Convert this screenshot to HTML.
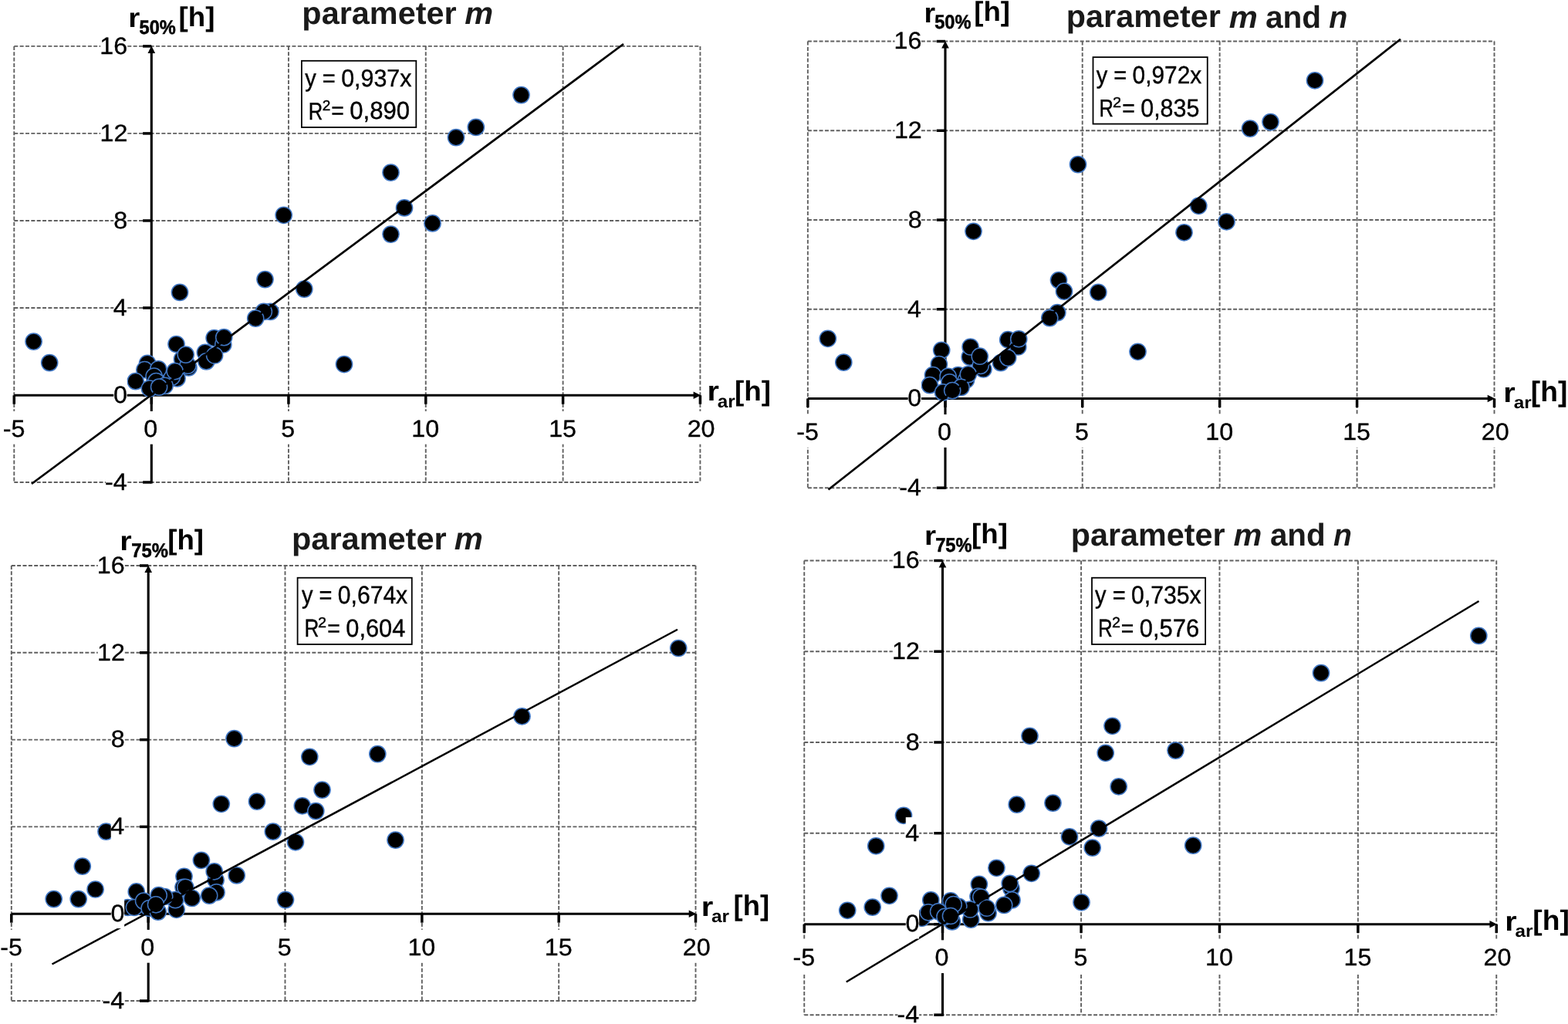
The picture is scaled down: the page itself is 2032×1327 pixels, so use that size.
<!DOCTYPE html>
<html lang="en">
<head>
<meta charset="utf-8">
<title>Scatter plots: parameter m / parameter m and n</title>
<style>
html,body{margin:0;padding:0;background:#fff;}
body{width:2032px;height:1327px;overflow:hidden;}
svg{display:block;}
text{white-space:pre;text-rendering:geometricPrecision;}
</style>
</head>
<body>
<svg width="2032" height="1327" viewBox="0 0 2032 1327">
<rect x="0" y="0" width="2032" height="1327" fill="#fff"/>
<defs><filter id="soft" x="0" y="0" width="100%" height="100%" filterUnits="userSpaceOnUse" color-interpolation-filters="sRGB"><feGaussianBlur stdDeviation="0.55"/></filter></defs>
<g font-family='"Liberation Sans", sans-serif' filter="url(#soft)">
<g id="panel1">
<g stroke="#606060" stroke-width="1.9" stroke-dasharray="5.0 2.35" fill="none">
<line x1="18.3" y1="59.9" x2="18.3" y2="625"/>
<line x1="373.94" y1="59.9" x2="373.94" y2="625"/>
<line x1="551.76" y1="59.9" x2="551.76" y2="625"/>
<line x1="729.58" y1="59.9" x2="729.58" y2="625"/>
<line x1="907.4" y1="59.9" x2="907.4" y2="625"/>
<line x1="18.3" y1="625" x2="907.4" y2="625"/>
<line x1="18.3" y1="398.96" x2="907.4" y2="398.96"/>
<line x1="18.3" y1="285.94" x2="907.4" y2="285.94"/>
<line x1="18.3" y1="172.92" x2="907.4" y2="172.92"/>
<line x1="18.3" y1="59.9" x2="907.4" y2="59.9"/>
</g>
<g stroke="#000" stroke-width="3.1" fill="none">
<line x1="18.3" y1="512.3" x2="903.4" y2="512.3"/>
<line x1="196.3" y1="63.9" x2="196.3" y2="626.5"/>
</g>
<g stroke="#000" stroke-width="3.5" fill="none">
<line x1="18.3" y1="512.3" x2="18.3" y2="523.7"/>
<line x1="196.3" y1="512.3" x2="196.3" y2="523.7"/>
<line x1="373.94" y1="512.3" x2="373.94" y2="523.7"/>
<line x1="551.76" y1="512.3" x2="551.76" y2="523.7"/>
<line x1="729.58" y1="512.3" x2="729.58" y2="523.7"/>
<line x1="907.4" y1="512.3" x2="907.4" y2="523.7"/>
<line x1="185.1" y1="625" x2="196.3" y2="625"/>
<line x1="185.1" y1="512.3" x2="196.3" y2="512.3"/>
<line x1="185.1" y1="398.96" x2="196.3" y2="398.96"/>
<line x1="185.1" y1="285.94" x2="196.3" y2="285.94"/>
<line x1="185.1" y1="172.92" x2="196.3" y2="172.92"/>
<line x1="185.1" y1="59.9" x2="196.3" y2="59.9"/>
</g>
<path d="M196.3 59.3 L191.5 68.9 L201.1 68.9 Z" fill="#000"/>
<path d="M908.2 512.3 L898.6 507.5 L898.6 517.1 Z" fill="#000"/>
<g fill="#000" stroke="#4076c2" stroke-width="1.5">
<circle cx="43.6" cy="442.6" r="10.6"/>
<circle cx="64.2" cy="470.1" r="10.6"/>
<circle cx="233" cy="378.9" r="10.6"/>
<circle cx="367.7" cy="278.8" r="10.6"/>
<circle cx="343.5" cy="362.1" r="10.6"/>
<circle cx="394.3" cy="374.6" r="10.6"/>
<circle cx="350.5" cy="403.9" r="10.6"/>
<circle cx="341.8" cy="403.9" r="10.6"/>
<circle cx="331.2" cy="412.6" r="10.6"/>
<circle cx="446" cy="472.05" r="10.6"/>
<circle cx="506.5" cy="223.6" r="10.6"/>
<circle cx="524" cy="269.4" r="10.6"/>
<circle cx="506.5" cy="303.6" r="10.6"/>
<circle cx="560.5" cy="289.4" r="10.6"/>
<circle cx="591" cy="178.1" r="10.6"/>
<circle cx="616.8" cy="164.9" r="10.6"/>
<circle cx="675.5" cy="123.1" r="10.6"/>
<circle cx="277.6" cy="438.05" r="10.6"/>
<circle cx="289.3" cy="446.5" r="10.6"/>
<circle cx="290.25" cy="437.1" r="10.6"/>
<circle cx="265.9" cy="456.75" r="10.6"/>
<circle cx="267.3" cy="468.4" r="10.6"/>
<circle cx="278.1" cy="460.5" r="10.6"/>
<circle cx="228.5" cy="446" r="10.6"/>
<circle cx="236" cy="465.2" r="10.6"/>
<circle cx="244.4" cy="476.4" r="10.6"/>
<circle cx="243.5" cy="473.6" r="10.6"/>
<circle cx="240.7" cy="459.6" r="10.6"/>
<circle cx="229.5" cy="490.4" r="10.6"/>
<circle cx="222.9" cy="488.5" r="10.6"/>
<circle cx="226.7" cy="481.1" r="10.6"/>
<circle cx="191.1" cy="470.8" r="10.6"/>
<circle cx="187.4" cy="479.2" r="10.6"/>
<circle cx="205.2" cy="478.25" r="10.6"/>
<circle cx="199.6" cy="487.6" r="10.6"/>
<circle cx="202.4" cy="494.1" r="10.6"/>
<circle cx="175.7" cy="494.1" r="10.6"/>
<circle cx="213.6" cy="499.8" r="10.6"/>
<circle cx="193.9" cy="503.5" r="10.6"/>
<circle cx="206.1" cy="501.6" r="10.6"/>
</g>
<line x1="41" y1="627" x2="808" y2="57" stroke="#000" stroke-width="2.7"/>
<rect x="136.95" y="604.4" width="27.7" height="39.4" fill="#fff"/>
<text transform="translate(136 634.79) scale(1.0463 1)" font-size="30.85" fill="#000" stroke="#000" stroke-width="0.35">-4</text>
<rect x="147.25" y="491.7" width="17.4" height="39.4" fill="#fff"/>
<text transform="translate(146.97 522.09) scale(1.0463 1)" font-size="30.85" fill="#000" stroke="#000" stroke-width="0.35">0</text>
<rect x="147.25" y="378.36" width="17.4" height="39.4" fill="#fff"/>
<text transform="translate(146.65 408.75) scale(1.0463 1)" font-size="30.85" fill="#000" stroke="#000" stroke-width="0.35">4</text>
<rect x="147.25" y="265.34" width="17.4" height="39.4" fill="#fff"/>
<text transform="translate(147.29 295.73) scale(1.0463 1)" font-size="30.85" fill="#000" stroke="#000" stroke-width="0.35">8</text>
<rect x="130.25" y="152.32" width="34.4" height="39.4" fill="#fff"/>
<text transform="translate(129.54 182.71) scale(1.0463 1)" font-size="30.85" fill="#000" stroke="#000" stroke-width="0.35">12</text>
<rect x="130.25" y="39.3" width="34.4" height="39.4" fill="#fff"/>
<text transform="translate(129.22 69.69) scale(1.0463 1)" font-size="30.85" fill="#000" stroke="#000" stroke-width="0.35">16</text>
<rect x="4.05" y="532.9" width="27.9" height="42.8" fill="#fff"/>
<text transform="translate(3.64 565.59) scale(1.0463 1)" font-size="30.85" fill="#000" stroke="#000" stroke-width="0.35">-5</text>
<rect x="186.5" y="532.9" width="17.6" height="42.8" fill="#fff"/>
<text transform="translate(186.26 565.59) scale(1.0463 1)" font-size="30.85" fill="#000" stroke="#000" stroke-width="0.35">0</text>
<rect x="364.34" y="532.9" width="17.6" height="42.8" fill="#fff"/>
<text transform="translate(364.26 565.59) scale(1.0463 1)" font-size="30.85" fill="#000" stroke="#000" stroke-width="0.35">5</text>
<rect x="534.61" y="532.9" width="34.6" height="42.8" fill="#fff"/>
<text transform="translate(533.35 565.59) scale(1.0463 1)" font-size="30.85" fill="#000" stroke="#000" stroke-width="0.35">10</text>
<rect x="712.43" y="532.9" width="34.6" height="42.8" fill="#fff"/>
<text transform="translate(711.17 565.59) scale(1.0463 1)" font-size="30.85" fill="#000" stroke="#000" stroke-width="0.35">15</text>
<rect x="891.4" y="532.9" width="34.6" height="42.8" fill="#fff"/>
<text transform="translate(890.63 565.59) scale(1.0463 1)" font-size="30.85" fill="#000" stroke="#000" stroke-width="0.35">20</text>
<rect x="390.9" y="78.8" width="148.4" height="86.2" fill="#fff" stroke="#000" stroke-width="1.8"/>
<g font-family='"Liberation Sans", sans-serif'>
<text transform="translate(391.35 30.85) scale(1.0178 1)" font-size="40.7" fill="#1a1a1a" font-weight="bold">parameter </text>
<text transform="translate(602.17 31.25) scale(1.0243 1)" font-size="40.46" fill="#1a1a1a" font-weight="bold" font-style="italic">m </text>
<text transform="translate(166.29 35.25) scale(1.0989 1)" font-size="35.19" fill="#000" font-weight="bold">r</text>
<text transform="translate(180.54 43.75) scale(0.9320 1)" font-size="25.36" fill="#000" font-weight="bold" stroke="#000" stroke-width="0.55">50%</text>
<text transform="translate(231.55 33.76) scale(1.0279 1)" font-size="35.65" fill="#000" font-weight="bold">[h]</text>
<text transform="translate(916.49 519.4) scale(1.0995 1)" font-size="35.93" fill="#000" font-weight="bold">r</text>
<text transform="translate(929.77 527.72) scale(1.0497 1)" font-size="23.18" fill="#000" font-weight="bold">ar</text>
<text transform="translate(952.04 518.63) scale(1.0155 1)" font-size="36.29" fill="#000" font-weight="bold">[h]</text>
<text transform="translate(395.31 112.28) scale(0.9171 1)" font-size="31.62" fill="#000" stroke="#000" stroke-width="0.4">y = </text>
<text transform="translate(442.18 112.28) scale(0.9611 1)" font-size="31.62" fill="#000" stroke="#000" stroke-width="0.4">0,937x</text>
<text transform="translate(399.85 154.7) scale(0.8101 1)" font-size="31.59" fill="#000" stroke="#000" stroke-width="0.4">R</text>
<text transform="translate(417.8 143.1) scale(1.0164 1)" font-size="18.71" fill="#000" stroke="#000" stroke-width="0.4">2</text>
<text transform="translate(429.33 154.38) scale(0.8882 1)" font-size="31.9" fill="#000" stroke="#000" stroke-width="0.4">= </text>
<text transform="translate(453.26 154.38) scale(0.9741 1)" font-size="31.9" fill="#000" stroke="#000" stroke-width="0.4">0,890</text>
</g>
</g>
<g id="panel2">
<g stroke="#606060" stroke-width="1.9" stroke-dasharray="5.0 2.35" fill="none">
<line x1="1046.85" y1="53.55" x2="1046.85" y2="632.2"/>
<line x1="1402.71" y1="53.55" x2="1402.71" y2="632.2"/>
<line x1="1580.64" y1="53.55" x2="1580.64" y2="632.2"/>
<line x1="1758.57" y1="53.55" x2="1758.57" y2="632.2"/>
<line x1="1936.5" y1="53.55" x2="1936.5" y2="632.2"/>
<line x1="1046.85" y1="632.2" x2="1936.5" y2="632.2"/>
<line x1="1046.85" y1="400.74" x2="1936.5" y2="400.74"/>
<line x1="1046.85" y1="285.01" x2="1936.5" y2="285.01"/>
<line x1="1046.85" y1="169.28" x2="1936.5" y2="169.28"/>
<line x1="1046.85" y1="53.55" x2="1936.5" y2="53.55"/>
</g>
<g stroke="#000" stroke-width="3.1" fill="none">
<line x1="1046.85" y1="516.5" x2="1932.5" y2="516.5"/>
<line x1="1225" y1="57.55" x2="1225" y2="633.7"/>
</g>
<g stroke="#000" stroke-width="3.5" fill="none">
<line x1="1046.85" y1="516.5" x2="1046.85" y2="527.9"/>
<line x1="1225" y1="516.5" x2="1225" y2="527.9"/>
<line x1="1402.71" y1="516.5" x2="1402.71" y2="527.9"/>
<line x1="1580.64" y1="516.5" x2="1580.64" y2="527.9"/>
<line x1="1758.57" y1="516.5" x2="1758.57" y2="527.9"/>
<line x1="1936.5" y1="516.5" x2="1936.5" y2="527.9"/>
<line x1="1213.8" y1="632.2" x2="1225" y2="632.2"/>
<line x1="1213.8" y1="516.5" x2="1225" y2="516.5"/>
<line x1="1213.8" y1="400.74" x2="1225" y2="400.74"/>
<line x1="1213.8" y1="285.01" x2="1225" y2="285.01"/>
<line x1="1213.8" y1="169.28" x2="1225" y2="169.28"/>
<line x1="1213.8" y1="53.55" x2="1225" y2="53.55"/>
</g>
<path d="M1225 52.95 L1220.2 62.55 L1229.8 62.55 Z" fill="#000"/>
<path d="M1937.3 516.5 L1927.7 511.7 L1927.7 521.3 Z" fill="#000"/>
<g fill="#000" stroke="#4076c2" stroke-width="1.5">
<circle cx="1072.8" cy="438.8" r="10.6"/>
<circle cx="1093.3" cy="469.6" r="10.6"/>
<circle cx="1474.5" cy="455.8" r="10.6"/>
<circle cx="1423.3" cy="378.8" r="10.6"/>
<circle cx="1372" cy="363.1" r="10.6"/>
<circle cx="1379" cy="377.6" r="10.6"/>
<circle cx="1370.3" cy="405.1" r="10.6"/>
<circle cx="1360.3" cy="412.1" r="10.6"/>
<circle cx="1397" cy="213.1" r="10.6"/>
<circle cx="1261.5" cy="299.8" r="10.6"/>
<circle cx="1704" cy="104.3" r="10.6"/>
<circle cx="1646.5" cy="158.1" r="10.6"/>
<circle cx="1620" cy="166.6" r="10.6"/>
<circle cx="1553.3" cy="266.8" r="10.6"/>
<circle cx="1589.5" cy="287.3" r="10.6"/>
<circle cx="1534.5" cy="301.3" r="10.6"/>
<circle cx="1306.2" cy="440.2" r="10.6"/>
<circle cx="1319.3" cy="449.5" r="10.6"/>
<circle cx="1320.25" cy="439.25" r="10.6"/>
<circle cx="1296.9" cy="470.1" r="10.6"/>
<circle cx="1306.2" cy="463.6" r="10.6"/>
<circle cx="1256.7" cy="462.6" r="10.6"/>
<circle cx="1257.6" cy="449.5" r="10.6"/>
<circle cx="1274.4" cy="478.5" r="10.6"/>
<circle cx="1270.7" cy="473.85" r="10.6"/>
<circle cx="1269.75" cy="461.7" r="10.6"/>
<circle cx="1220.2" cy="453.75" r="10.6"/>
<circle cx="1216.9" cy="472" r="10.6"/>
<circle cx="1209" cy="486" r="10.6"/>
<circle cx="1241.7" cy="486" r="10.6"/>
<circle cx="1252" cy="492.5" r="10.6"/>
<circle cx="1254.8" cy="485.1" r="10.6"/>
<circle cx="1228.6" cy="487.9" r="10.6"/>
<circle cx="1230.5" cy="495.35" r="10.6"/>
<circle cx="1204.8" cy="499.1" r="10.6"/>
<circle cx="1245.5" cy="501.9" r="10.6"/>
<circle cx="1222.1" cy="508.4" r="10.6"/>
<circle cx="1234.2" cy="506.1" r="10.6"/>
</g>
<line x1="1073.5" y1="634.5" x2="1815" y2="50.75" stroke="#000" stroke-width="2.7"/>
<rect x="1166.3" y="611.6" width="27.7" height="39.4" fill="#fff"/>
<text transform="translate(1165.35 641.99) scale(1.0463 1)" font-size="30.85" fill="#000" stroke="#000" stroke-width="0.35">-4</text>
<rect x="1176.6" y="495.9" width="17.4" height="39.4" fill="#fff"/>
<text transform="translate(1176.32 526.29) scale(1.0463 1)" font-size="30.85" fill="#000" stroke="#000" stroke-width="0.35">0</text>
<rect x="1176.6" y="380.14" width="17.4" height="39.4" fill="#fff"/>
<text transform="translate(1176 410.53) scale(1.0463 1)" font-size="30.85" fill="#000" stroke="#000" stroke-width="0.35">4</text>
<rect x="1176.6" y="264.41" width="17.4" height="39.4" fill="#fff"/>
<text transform="translate(1176.64 294.8) scale(1.0463 1)" font-size="30.85" fill="#000" stroke="#000" stroke-width="0.35">8</text>
<rect x="1159.6" y="148.68" width="34.4" height="39.4" fill="#fff"/>
<text transform="translate(1158.89 179.07) scale(1.0463 1)" font-size="30.85" fill="#000" stroke="#000" stroke-width="0.35">12</text>
<rect x="1159.6" y="32.95" width="34.4" height="39.4" fill="#fff"/>
<text transform="translate(1158.57 63.34) scale(1.0463 1)" font-size="30.85" fill="#000" stroke="#000" stroke-width="0.35">16</text>
<rect x="1032.6" y="537.1" width="27.9" height="42.8" fill="#fff"/>
<text transform="translate(1032.19 569.79) scale(1.0463 1)" font-size="30.85" fill="#000" stroke="#000" stroke-width="0.35">-5</text>
<rect x="1215.2" y="537.1" width="17.6" height="42.8" fill="#fff"/>
<text transform="translate(1214.96 569.79) scale(1.0463 1)" font-size="30.85" fill="#000" stroke="#000" stroke-width="0.35">0</text>
<rect x="1393.11" y="537.1" width="17.6" height="42.8" fill="#fff"/>
<text transform="translate(1393.04 569.79) scale(1.0463 1)" font-size="30.85" fill="#000" stroke="#000" stroke-width="0.35">5</text>
<rect x="1563.49" y="537.1" width="34.6" height="42.8" fill="#fff"/>
<text transform="translate(1562.23 569.79) scale(1.0463 1)" font-size="30.85" fill="#000" stroke="#000" stroke-width="0.35">10</text>
<rect x="1741.42" y="537.1" width="34.6" height="42.8" fill="#fff"/>
<text transform="translate(1740.16 569.79) scale(1.0463 1)" font-size="30.85" fill="#000" stroke="#000" stroke-width="0.35">15</text>
<rect x="1920.5" y="537.1" width="34.6" height="42.8" fill="#fff"/>
<text transform="translate(1919.73 569.79) scale(1.0463 1)" font-size="30.85" fill="#000" stroke="#000" stroke-width="0.35">20</text>
<rect x="1416.5" y="74.1" width="148.25" height="86.5" fill="#fff" stroke="#000" stroke-width="1.8"/>
<g font-family='"Liberation Sans", sans-serif'>
<text transform="translate(1381.86 35.2) scale(1.0157 1)" font-size="40.7" fill="#1a1a1a" font-weight="bold">parameter </text>
<text transform="translate(1592.67 35.6) scale(1.0302 1)" font-size="40.46" fill="#1a1a1a" font-weight="bold" font-style="italic">m </text>
<text transform="translate(1640.03 35.6) scale(1.0025 1)" font-size="40.46" fill="#1a1a1a" font-weight="bold">and </text>
<text transform="translate(1722.31 35.6) scale(0.9728 1)" font-size="40.46" fill="#1a1a1a" font-weight="bold" font-style="italic">n</text>
<text transform="translate(1197.38 28.75) scale(1.0465 1)" font-size="35.83" fill="#000" font-weight="bold">r</text>
<text transform="translate(1211.19 37.09) scale(0.9268 1)" font-size="25.5" fill="#000" font-weight="bold" stroke="#000" stroke-width="0.55">50%</text>
<text transform="translate(1262.2 26.91) scale(1.0279 1)" font-size="35.65" fill="#000" font-weight="bold">[h]</text>
<text transform="translate(1948.32 520.6) scale(1.1070 1)" font-size="35.83" fill="#000" font-weight="bold">r</text>
<text transform="translate(1961.67 528.73) scale(1.1035 1)" font-size="22" fill="#000" font-weight="bold">ar</text>
<text transform="translate(1983.87 519.73) scale(1.0057 1)" font-size="36.99" fill="#000" font-weight="bold">[h]</text>
<text transform="translate(1420.71 108.13) scale(0.9091 1)" font-size="31.9" fill="#000" stroke="#000" stroke-width="0.4">y = </text>
<text transform="translate(1467.61 108.13) scale(0.9351 1)" font-size="31.9" fill="#000" stroke="#000" stroke-width="0.4">0,972x</text>
<text transform="translate(1424.47 150.7) scale(0.7974 1)" font-size="31.88" fill="#000" stroke="#000" stroke-width="0.4">R</text>
<text transform="translate(1442.11 138.75) scale(1.0589 1)" font-size="18.79" fill="#000" stroke="#000" stroke-width="0.4">2</text>
<text transform="translate(1454.33 150.78) scale(0.8727 1)" font-size="32.46" fill="#000" stroke="#000" stroke-width="0.4">= </text>
<text transform="translate(1478.28 150.78) scale(0.9362 1)" font-size="32.46" fill="#000" stroke="#000" stroke-width="0.4">0,835</text>
</g>
</g>
<g id="panel3">
<g stroke="#606060" stroke-width="1.9" stroke-dasharray="5.0 2.35" fill="none">
<line x1="14.8" y1="733" x2="14.8" y2="1297"/>
<line x1="369.48" y1="733" x2="369.48" y2="1297"/>
<line x1="546.82" y1="733" x2="546.82" y2="1297"/>
<line x1="724.16" y1="733" x2="724.16" y2="1297"/>
<line x1="901.5" y1="733" x2="901.5" y2="1297"/>
<line x1="14.8" y1="1297" x2="901.5" y2="1297"/>
<line x1="14.8" y1="1071.4" x2="901.5" y2="1071.4"/>
<line x1="14.8" y1="958.6" x2="901.5" y2="958.6"/>
<line x1="14.8" y1="845.8" x2="901.5" y2="845.8"/>
<line x1="14.8" y1="733" x2="901.5" y2="733"/>
</g>
<g stroke="#000" stroke-width="3.1" fill="none">
<line x1="14.8" y1="1184.3" x2="897.5" y2="1184.3"/>
<line x1="192.2" y1="737" x2="192.2" y2="1298.5"/>
</g>
<g stroke="#000" stroke-width="3.5" fill="none">
<line x1="14.8" y1="1184.3" x2="14.8" y2="1195.7"/>
<line x1="192.2" y1="1184.3" x2="192.2" y2="1195.7"/>
<line x1="369.48" y1="1184.3" x2="369.48" y2="1195.7"/>
<line x1="546.82" y1="1184.3" x2="546.82" y2="1195.7"/>
<line x1="724.16" y1="1184.3" x2="724.16" y2="1195.7"/>
<line x1="901.5" y1="1184.3" x2="901.5" y2="1195.7"/>
<line x1="181" y1="1297" x2="192.2" y2="1297"/>
<line x1="181" y1="1184.3" x2="192.2" y2="1184.3"/>
<line x1="181" y1="1071.4" x2="192.2" y2="1071.4"/>
<line x1="181" y1="958.6" x2="192.2" y2="958.6"/>
<line x1="181" y1="845.8" x2="192.2" y2="845.8"/>
<line x1="181" y1="733" x2="192.2" y2="733"/>
</g>
<path d="M192.2 732.4 L187.4 742 L197 742 Z" fill="#000"/>
<path d="M902.3 1184.3 L892.7 1179.5 L892.7 1189.1 Z" fill="#000"/>
<g fill="#000" stroke="#4076c2" stroke-width="1.5">
<circle cx="69.7" cy="1165.1" r="10.6"/>
<circle cx="101.7" cy="1165.1" r="10.6"/>
<circle cx="123.6" cy="1152.5" r="10.6"/>
<circle cx="106.8" cy="1122.6" r="10.6"/>
<circle cx="137.5" cy="1077.6" r="10.6"/>
<circle cx="286.8" cy="1041.8" r="10.6"/>
<circle cx="333" cy="1038.6" r="10.6"/>
<circle cx="391.8" cy="1044.3" r="10.6"/>
<circle cx="409.3" cy="1051.1" r="10.6"/>
<circle cx="417.5" cy="1023.6" r="10.6"/>
<circle cx="353.8" cy="1077.6" r="10.6"/>
<circle cx="383" cy="1091.3" r="10.6"/>
<circle cx="512.5" cy="1088.6" r="10.6"/>
<circle cx="370" cy="1166.1" r="10.6"/>
<circle cx="303.5" cy="957.1" r="10.6"/>
<circle cx="401.3" cy="980.8" r="10.6"/>
<circle cx="489.3" cy="977.1" r="10.6"/>
<circle cx="879.2" cy="840" r="10.6"/>
<circle cx="676.5" cy="928.3" r="10.6"/>
<circle cx="260.9" cy="1114.8" r="10.6"/>
<circle cx="306.7" cy="1134.4" r="10.6"/>
<circle cx="279.6" cy="1140.5" r="10.6"/>
<circle cx="277.7" cy="1129.3" r="10.6"/>
<circle cx="238.5" cy="1135.8" r="10.6"/>
<circle cx="237.5" cy="1149.8" r="10.6"/>
<circle cx="240.3" cy="1149.8" r="10.6"/>
<circle cx="280.5" cy="1156.4" r="10.6"/>
<circle cx="271.2" cy="1160.6" r="10.6"/>
<circle cx="248.75" cy="1163.9" r="10.6"/>
<circle cx="228.6" cy="1178.8" r="10.6"/>
<circle cx="227.2" cy="1166.2" r="10.6"/>
<circle cx="176.75" cy="1155.45" r="10.6"/>
<circle cx="213.2" cy="1162" r="10.6"/>
<circle cx="205.7" cy="1160.1" r="10.6"/>
<circle cx="165.5" cy="1176" r="10.6"/>
<circle cx="173.9" cy="1176" r="10.6"/>
<circle cx="186.1" cy="1167.6" r="10.6"/>
<circle cx="193.6" cy="1177" r="10.6"/>
<circle cx="204.8" cy="1181.6" r="10.6"/>
<circle cx="202" cy="1172.3" r="10.6"/>
</g>
<line x1="67.5" y1="1249.5" x2="878" y2="815.75" stroke="#000" stroke-width="2.5"/>
<rect x="133.45" y="1276.4" width="27.7" height="39.4" fill="#fff"/>
<text transform="translate(132.5 1306.79) scale(1.0463 1)" font-size="30.85" fill="#000" stroke="#000" stroke-width="0.35">-4</text>
<rect x="143.75" y="1163.7" width="17.4" height="39.4" fill="#fff"/>
<text transform="translate(143.47 1194.09) scale(1.0463 1)" font-size="30.85" fill="#000" stroke="#000" stroke-width="0.35">0</text>
<rect x="143.75" y="1050.8" width="17.4" height="39.4" fill="#fff"/>
<text transform="translate(143.15 1081.19) scale(1.0463 1)" font-size="30.85" fill="#000" stroke="#000" stroke-width="0.35">4</text>
<rect x="143.75" y="938" width="17.4" height="39.4" fill="#fff"/>
<text transform="translate(143.79 968.39) scale(1.0463 1)" font-size="30.85" fill="#000" stroke="#000" stroke-width="0.35">8</text>
<rect x="126.75" y="825.2" width="34.4" height="39.4" fill="#fff"/>
<text transform="translate(126.04 855.59) scale(1.0463 1)" font-size="30.85" fill="#000" stroke="#000" stroke-width="0.35">12</text>
<rect x="126.75" y="712.4" width="34.4" height="39.4" fill="#fff"/>
<text transform="translate(125.72 742.79) scale(1.0463 1)" font-size="30.85" fill="#000" stroke="#000" stroke-width="0.35">16</text>
<rect x="0.55" y="1204.9" width="27.9" height="42.8" fill="#fff"/>
<text transform="translate(0.14 1237.59) scale(1.0463 1)" font-size="30.85" fill="#000" stroke="#000" stroke-width="0.35">-5</text>
<rect x="182.4" y="1204.9" width="17.6" height="42.8" fill="#fff"/>
<text transform="translate(182.16 1237.59) scale(1.0463 1)" font-size="30.85" fill="#000" stroke="#000" stroke-width="0.35">0</text>
<rect x="359.88" y="1204.9" width="17.6" height="42.8" fill="#fff"/>
<text transform="translate(359.81 1237.59) scale(1.0463 1)" font-size="30.85" fill="#000" stroke="#000" stroke-width="0.35">5</text>
<rect x="529.67" y="1204.9" width="34.6" height="42.8" fill="#fff"/>
<text transform="translate(528.41 1237.59) scale(1.0463 1)" font-size="30.85" fill="#000" stroke="#000" stroke-width="0.35">10</text>
<rect x="707.01" y="1204.9" width="34.6" height="42.8" fill="#fff"/>
<text transform="translate(705.75 1237.59) scale(1.0463 1)" font-size="30.85" fill="#000" stroke="#000" stroke-width="0.35">15</text>
<rect x="885.5" y="1204.9" width="34.6" height="42.8" fill="#fff"/>
<text transform="translate(884.73 1237.59) scale(1.0463 1)" font-size="30.85" fill="#000" stroke="#000" stroke-width="0.35">20</text>
<rect x="385.6" y="748.75" width="148.15" height="86.25" fill="#fff" stroke="#000" stroke-width="1.8"/>
<g font-family='"Liberation Sans", sans-serif'>
<text transform="translate(378 711.51) scale(1.0269 1)" font-size="40.41" fill="#1a1a1a" font-weight="bold">parameter </text>
<text transform="translate(588.77 711.9) scale(1.0294 1)" font-size="40.56" fill="#1a1a1a" font-weight="bold" font-style="italic">m </text>
<text transform="translate(155.32 713.4) scale(1.1274 1)" font-size="35.19" fill="#000" font-weight="bold">r</text>
<text transform="translate(170.3 721.89) scale(0.9269 1)" font-size="25.71" fill="#000" font-weight="bold" stroke="#000" stroke-width="0.55">75%</text>
<text transform="translate(217.2 712.32) scale(1.0022 1)" font-size="36.56" fill="#000" font-weight="bold">[h]</text>
<text transform="translate(908.7 1186.9) scale(1.1279 1)" font-size="35.46" fill="#000" font-weight="bold">r</text>
<text transform="translate(922.02 1194.97) scale(1.0756 1)" font-size="22.73" fill="#000" font-weight="bold">ar</text>
<text transform="translate(950.56 1185.99) scale(0.9861 1)" font-size="36.94" fill="#000" font-weight="bold">[h]</text>
<text transform="translate(390.96 782.28) scale(0.8933 1)" font-size="32.46" fill="#000" stroke="#000" stroke-width="0.4">y = </text>
<text transform="translate(437.85 782.28) scale(0.9267 1)" font-size="32.46" fill="#000" stroke="#000" stroke-width="0.4">0,674x</text>
<text transform="translate(394.41 825.1) scale(0.8076 1)" font-size="32.32" fill="#000" stroke="#000" stroke-width="0.4">R</text>
<text transform="translate(412.11 813.1) scale(1.0629 1)" font-size="18.71" fill="#000" stroke="#000" stroke-width="0.4">2</text>
<text transform="translate(424.33 824.98) scale(0.8746 1)" font-size="32.39" fill="#000" stroke="#000" stroke-width="0.4">= </text>
<text transform="translate(448.27 824.98) scale(0.9502 1)" font-size="32.39" fill="#000" stroke="#000" stroke-width="0.4">0,604</text>
</g>
</g>
<g id="panel4">
<g stroke="#606060" stroke-width="1.9" stroke-dasharray="5.0 2.35" fill="none">
<line x1="1042.25" y1="726.5" x2="1042.25" y2="1315.2"/>
<line x1="1401.05" y1="726.5" x2="1401.05" y2="1315.2"/>
<line x1="1580.45" y1="726.5" x2="1580.45" y2="1315.2"/>
<line x1="1759.85" y1="726.5" x2="1759.85" y2="1315.2"/>
<line x1="1939.25" y1="726.5" x2="1939.25" y2="1315.2"/>
<line x1="1042.25" y1="1315.2" x2="1939.25" y2="1315.2"/>
<line x1="1042.25" y1="1079.72" x2="1939.25" y2="1079.72"/>
<line x1="1042.25" y1="961.98" x2="1939.25" y2="961.98"/>
<line x1="1042.25" y1="844.24" x2="1939.25" y2="844.24"/>
<line x1="1042.25" y1="726.5" x2="1939.25" y2="726.5"/>
</g>
<g stroke="#000" stroke-width="3.1" fill="none">
<line x1="1042.25" y1="1197.7" x2="1935.25" y2="1197.7"/>
<line x1="1221.5" y1="730.5" x2="1221.5" y2="1316.7"/>
</g>
<g stroke="#000" stroke-width="3.5" fill="none">
<line x1="1042.25" y1="1197.7" x2="1042.25" y2="1209.1"/>
<line x1="1221.5" y1="1197.7" x2="1221.5" y2="1209.1"/>
<line x1="1401.05" y1="1197.7" x2="1401.05" y2="1209.1"/>
<line x1="1580.45" y1="1197.7" x2="1580.45" y2="1209.1"/>
<line x1="1759.85" y1="1197.7" x2="1759.85" y2="1209.1"/>
<line x1="1939.25" y1="1197.7" x2="1939.25" y2="1209.1"/>
<line x1="1210.3" y1="1315.2" x2="1221.5" y2="1315.2"/>
<line x1="1210.3" y1="1197.7" x2="1221.5" y2="1197.7"/>
<line x1="1210.3" y1="1079.72" x2="1221.5" y2="1079.72"/>
<line x1="1210.3" y1="961.98" x2="1221.5" y2="961.98"/>
<line x1="1210.3" y1="844.24" x2="1221.5" y2="844.24"/>
<line x1="1210.3" y1="726.5" x2="1221.5" y2="726.5"/>
</g>
<path d="M1221.5 725.9 L1216.7 735.5 L1226.3 735.5 Z" fill="#000"/>
<path d="M1940.05 1197.7 L1930.45 1192.9 L1930.45 1202.5 Z" fill="#000"/>
<g fill="#000" stroke="#4076c2" stroke-width="1.5">
<circle cx="1098.2" cy="1179.8" r="10.6"/>
<circle cx="1130.7" cy="1175.6" r="10.6"/>
<circle cx="1152.5" cy="1160.8" r="10.6"/>
<circle cx="1135.2" cy="1096.3" r="10.6"/>
<circle cx="1171" cy="1056.8" r="10.6"/>
<circle cx="1317.7" cy="1042.6" r="10.6"/>
<circle cx="1364.5" cy="1040.6" r="10.6"/>
<circle cx="1449.7" cy="1019.3" r="10.6"/>
<circle cx="1424" cy="1073.6" r="10.6"/>
<circle cx="1386" cy="1084.3" r="10.6"/>
<circle cx="1415.7" cy="1098.6" r="10.6"/>
<circle cx="1401.5" cy="1169.3" r="10.6"/>
<circle cx="1334.5" cy="953.8" r="10.6"/>
<circle cx="1441.5" cy="940.8" r="10.6"/>
<circle cx="1432.7" cy="975.8" r="10.6"/>
<circle cx="1523.5" cy="972.6" r="10.6"/>
<circle cx="1916.3" cy="823.9" r="10.6"/>
<circle cx="1712" cy="872.1" r="10.6"/>
<circle cx="1546.2" cy="1095.6" r="10.6"/>
<circle cx="1291.4" cy="1124.8" r="10.6"/>
<circle cx="1336.7" cy="1131.8" r="10.6"/>
<circle cx="1268.9" cy="1145.8" r="10.6"/>
<circle cx="1310.5" cy="1151.4" r="10.6"/>
<circle cx="1308.7" cy="1144.9" r="10.6"/>
<circle cx="1311.5" cy="1166.4" r="10.6"/>
<circle cx="1301.2" cy="1172.9" r="10.6"/>
<circle cx="1267.5" cy="1161.7" r="10.6"/>
<circle cx="1271.3" cy="1162.6" r="10.6"/>
<circle cx="1280.6" cy="1183.2" r="10.6"/>
<circle cx="1278.75" cy="1176.7" r="10.6"/>
<circle cx="1258.2" cy="1191.6" r="10.6"/>
<circle cx="1257.2" cy="1178.5" r="10.6"/>
<circle cx="1206.3" cy="1166.4" r="10.6"/>
<circle cx="1194.6" cy="1189.8" r="10.6"/>
<circle cx="1203" cy="1182.3" r="10.6"/>
<circle cx="1242.3" cy="1174.8" r="10.6"/>
<circle cx="1232" cy="1167.3" r="10.6"/>
<circle cx="1235.7" cy="1172" r="10.6"/>
<circle cx="1216.1" cy="1181.3" r="10.6"/>
<circle cx="1233.9" cy="1194.4" r="10.6"/>
<circle cx="1224.5" cy="1187.9" r="10.6"/>
<circle cx="1232" cy="1187" r="10.6"/>
</g>
<line x1="1096.75" y1="1272.5" x2="1916.5" y2="779" stroke="#000" stroke-width="2.5"/>
<rect x="1163.45" y="1294.6" width="27.7" height="39.4" fill="#fff"/>
<text transform="translate(1162.5 1324.99) scale(1.0463 1)" font-size="30.85" fill="#000" stroke="#000" stroke-width="0.35">-4</text>
<rect x="1173.75" y="1177.1" width="17.4" height="39.4" fill="#fff"/>
<text transform="translate(1173.47 1207.49) scale(1.0463 1)" font-size="30.85" fill="#000" stroke="#000" stroke-width="0.35">0</text>
<rect x="1173.75" y="1059.12" width="17.4" height="39.4" fill="#fff"/>
<text transform="translate(1173.15 1089.51) scale(1.0463 1)" font-size="30.85" fill="#000" stroke="#000" stroke-width="0.35">4</text>
<rect x="1173.75" y="941.38" width="17.4" height="39.4" fill="#fff"/>
<text transform="translate(1173.79 971.77) scale(1.0463 1)" font-size="30.85" fill="#000" stroke="#000" stroke-width="0.35">8</text>
<rect x="1156.75" y="823.64" width="34.4" height="39.4" fill="#fff"/>
<text transform="translate(1156.04 854.03) scale(1.0463 1)" font-size="30.85" fill="#000" stroke="#000" stroke-width="0.35">12</text>
<rect x="1156.75" y="705.9" width="34.4" height="39.4" fill="#fff"/>
<text transform="translate(1155.72 736.29) scale(1.0463 1)" font-size="30.85" fill="#000" stroke="#000" stroke-width="0.35">16</text>
<rect x="1028" y="1218.3" width="27.9" height="42.8" fill="#fff"/>
<text transform="translate(1027.59 1250.99) scale(1.0463 1)" font-size="30.85" fill="#000" stroke="#000" stroke-width="0.35">-5</text>
<rect x="1211.7" y="1218.3" width="17.6" height="42.8" fill="#fff"/>
<text transform="translate(1211.46 1250.99) scale(1.0463 1)" font-size="30.85" fill="#000" stroke="#000" stroke-width="0.35">0</text>
<rect x="1391.45" y="1218.3" width="17.6" height="42.8" fill="#fff"/>
<text transform="translate(1391.38 1250.99) scale(1.0463 1)" font-size="30.85" fill="#000" stroke="#000" stroke-width="0.35">5</text>
<rect x="1563.3" y="1218.3" width="34.6" height="42.8" fill="#fff"/>
<text transform="translate(1562.04 1250.99) scale(1.0463 1)" font-size="30.85" fill="#000" stroke="#000" stroke-width="0.35">10</text>
<rect x="1742.7" y="1218.3" width="34.6" height="42.8" fill="#fff"/>
<text transform="translate(1741.44 1250.99) scale(1.0463 1)" font-size="30.85" fill="#000" stroke="#000" stroke-width="0.35">15</text>
<rect x="1923.25" y="1218.3" width="34.6" height="42.8" fill="#fff"/>
<text transform="translate(1922.48 1250.99) scale(1.0463 1)" font-size="30.85" fill="#000" stroke="#000" stroke-width="0.35">20</text>
<rect x="1415" y="748.75" width="147.1" height="86.25" fill="#fff" stroke="#000" stroke-width="1.8"/>
<g font-family='"Liberation Sans", sans-serif'>
<text transform="translate(1387.71 706.89) scale(1.0082 1)" font-size="40.99" fill="#1a1a1a" font-weight="bold">parameter </text>
<text transform="translate(1598.57 707.1) scale(1.0228 1)" font-size="40.46" fill="#1a1a1a" font-weight="bold" font-style="italic">m </text>
<text transform="translate(1645.89 707.25) scale(0.9920 1)" font-size="40.74" fill="#1a1a1a" font-weight="bold">and </text>
<text transform="translate(1727.97 707.1) scale(0.9661 1)" font-size="40.46" fill="#1a1a1a" font-weight="bold" font-style="italic">n</text>
<text transform="translate(1197.88 705.5) scale(1.1037 1)" font-size="35.19" fill="#000" font-weight="bold">r</text>
<text transform="translate(1212.15 714.59) scale(0.9198 1)" font-size="25.71" fill="#000" font-weight="bold" stroke="#000" stroke-width="0.55">75%</text>
<text transform="translate(1259.05 704.49) scale(1.0111 1)" font-size="36.24" fill="#000" font-weight="bold">[h]</text>
<text transform="translate(1950.22 1205.6) scale(1.1215 1)" font-size="35.37" fill="#000" font-weight="bold">r</text>
<text transform="translate(1963.52 1213.98) scale(1.0812 1)" font-size="22.45" fill="#000" font-weight="bold">ar</text>
<text transform="translate(1986.37 1204.63) scale(1.0250 1)" font-size="36.29" fill="#000" font-weight="bold">[h]</text>
<text transform="translate(1419.11 782.28) scale(0.8933 1)" font-size="32.46" fill="#000" stroke="#000" stroke-width="0.4">y = </text>
<text transform="translate(1465.99 782.28) scale(0.9303 1)" font-size="32.46" fill="#000" stroke="#000" stroke-width="0.4">0,735x</text>
<text transform="translate(1422.93 825.1) scale(0.7998 1)" font-size="32.32" fill="#000" stroke="#000" stroke-width="0.4">R</text>
<text transform="translate(1440.91 813.1) scale(1.0373 1)" font-size="19.07" fill="#000" stroke="#000" stroke-width="0.4">2</text>
<text transform="translate(1452.83 824.98) scale(0.8746 1)" font-size="32.39" fill="#000" stroke="#000" stroke-width="0.4">= </text>
<text transform="translate(1476.76 824.98) scale(0.9542 1)" font-size="32.39" fill="#000" stroke="#000" stroke-width="0.4">0,576</text>
</g>
</g>
</g>
</svg>
</body>
</html>
